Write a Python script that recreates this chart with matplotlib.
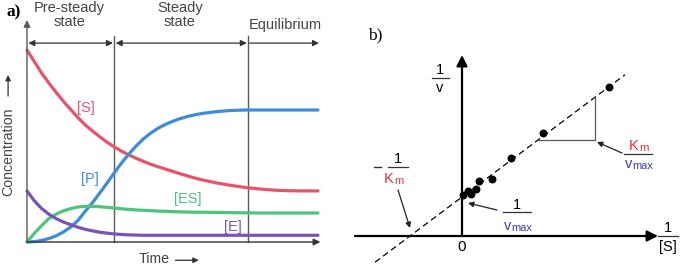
import matplotlib
matplotlib.use("Agg")
import matplotlib.pyplot as plt

# ---------------- data ----------------
time = [0, 0.25, 0.5, 0.75, 1, 1.25, 1.5, 1.75, 2, 2.25, 2.5, 2.75, 3, 3.25, 3.5, 3.75,
        4, 4.25, 4.5, 4.75, 5, 5.25, 5.5, 5.75, 6, 6.5, 7, 7.5, 8, 8.5, 9, 9.5, 10]
conc_S = [1.0, 0.94, 0.88, 0.828, 0.78, 0.733, 0.69, 0.648, 0.61, 0.578, 0.548, 0.52,
          0.495, 0.473, 0.453, 0.436, 0.42, 0.405, 0.392, 0.38, 0.368, 0.356, 0.345,
          0.334, 0.324, 0.308, 0.295, 0.284, 0.276, 0.27, 0.267, 0.266, 0.266]
conc_P = [0.0, 0.002, 0.008, 0.018, 0.032, 0.052, 0.078, 0.112, 0.16, 0.205, 0.255, 0.307,
          0.36, 0.412, 0.458, 0.5, 0.537, 0.567, 0.592, 0.612, 0.628, 0.642, 0.653, 0.662,
          0.669, 0.679, 0.685, 0.6875, 0.6875, 0.6875, 0.6875, 0.6875, 0.6875]
conc_ES = [0.0, 0.045, 0.085, 0.122, 0.145, 0.162, 0.174, 0.182, 0.186, 0.186, 0.184,
           0.18, 0.177, 0.173, 0.17, 0.167, 0.165, 0.163, 0.161, 0.16, 0.158, 0.157, 0.156,
           0.155, 0.155, 0.154, 0.153, 0.152, 0.151, 0.151, 0.151, 0.151, 0.151]
conc_E = [0.266, 0.215, 0.175, 0.145, 0.122, 0.104, 0.09, 0.077, 0.066, 0.058, 0.051,
          0.046, 0.042, 0.039, 0.037, 0.036, 0.035, 0.035, 0.035, 0.035, 0.035, 0.035,
          0.035, 0.035, 0.035, 0.035, 0.035, 0.035, 0.035, 0.035, 0.035, 0.035, 0.035]
phase_bounds = [3.0, 7.6]
phase_labels = ["Pre-steady\nstate", "Steady\nstate", "Equilibrium"]

inv_S = [0.02, 0.12, 0.18, 0.28, 0.34, 0.60, 0.98, 1.62, 2.94]
inv_v = [0.82, 0.90, 0.84, 0.94, 1.10, 1.14, 1.56, 2.06, 2.98]
inv_vmax = 0.78
neg_inv_Km = -1.04

# ---------------- style ----------------
FONT = "Liberation Sans"
C_S, C_P, C_ES, C_E = "#e8536b", "#3b8ddc", "#4cc47a", "#7a52b8"
C_RED, C_BLUE = "#e8303a", "#3a3ab4"
GRAY = "#5a5a5a"
TXT = "#444444"
FS_A = 10.5

fig = plt.figure(figsize=(6.85, 2.67), dpi=100)
W, H = 685.0, 267.0

# ================= panel a =================
axa = fig.add_axes([27 / W, 25 / H, 291 / W, 192 / H])
axa.set_xlim(0, 10)
axa.set_ylim(0, 1)
axa.axis("off")

lw = 2.3
for y, c in [(conc_S, C_S), (conc_P, C_P), (conc_ES, C_ES), (conc_E, C_E)]:
    axa.plot(time, y, color=c, lw=lw, clip_on=False, solid_capstyle="round",
             solid_joinstyle="round", zorder=3)

# axes
axa.annotate("", xy=(0, 1.156), xytext=(0, 0), xycoords="data",
             arrowprops=dict(arrowstyle="-|>", color=GRAY, lw=1.0, mutation_scale=10,
                             shrinkA=0, shrinkB=0), annotation_clip=False)
axa.annotate("", xy=(10.08, 0), xytext=(0, 0),
             arrowprops=dict(arrowstyle="-|>", color="#333333", lw=1.0, mutation_scale=10,
                             shrinkA=0, shrinkB=0), annotation_clip=False)
for b in phase_bounds:
    axa.plot([b, b], [0, 1.075], color=GRAY, lw=1.0, clip_on=False, zorder=2)

# phase arrows
ya = 1.036
seg = [(0, phase_bounds[0], "<|-|>"), (phase_bounds[0], phase_bounds[1], "<|-|>"),
       (phase_bounds[1], 10.08, "-|>")]
for x0, x1, st in seg:
    axa.annotate("", xy=(x1, ya), xytext=(x0, ya),
                 arrowprops=dict(arrowstyle=st, color="#333333", lw=0.9, mutation_scale=9,
                                 shrinkA=1, shrinkB=1), annotation_clip=False)

axa.text(1.45, 1.18, phase_labels[0], ha="center", va="center", fontsize=FS_A,
         family=FONT, color=TXT, linespacing=1.0)
axa.text(5.25, 1.18, phase_labels[1], ha="center", va="center", fontsize=FS_A,
         family=FONT, color=TXT, linespacing=1.0)
axa.text(8.87, 1.13, phase_labels[2], ha="center", va="center", fontsize=FS_A,
         family=FONT, color=TXT)

# curve labels
axa.text(2.03, 0.70, "[S]", color=C_S, fontsize=FS_A, family=FONT, ha="center", va="center")
axa.text(2.16, 0.33, "[P]", color=C_P, fontsize=FS_A, family=FONT, ha="center", va="center")
axa.text(5.53, 0.224, "[ES]", color=C_ES, fontsize=FS_A, family=FONT, ha="center", va="center")
axa.text(7.08, 0.078, "[E]", color=C_E, fontsize=FS_A, family=FONT, ha="center", va="center")

# axis titles
axa.text(-0.65, 0.47, "Concentration", rotation=90, ha="center", va="center",
         fontsize=10.2, family=FONT, color=TXT)
axa.annotate("", xy=(-0.65, 0.87), xytext=(-0.65, 0.76),
             arrowprops=dict(arrowstyle="-|>", color="#333333", lw=0.9, mutation_scale=8,
                             shrinkA=0, shrinkB=0), annotation_clip=False)
axa.text(4.36, -0.089, "Time", ha="center", va="center", fontsize=10.2, family=FONT,
         color=TXT)
axa.annotate("", xy=(5.9, -0.095), xytext=(5.1, -0.095),
             arrowprops=dict(arrowstyle="-|>", color="#333333", lw=0.9, mutation_scale=8,
                             shrinkA=0, shrinkB=0), annotation_clip=False)

fig.text(14 / W, 1 - 12 / H, "a)", fontsize=12.5, fontweight="bold",
         family="Liberation Serif", ha="center", va="center")

# ================= panel b =================
axb = fig.add_axes([342 / W, 0, 343 / W, 1])
axb.set_xlim(-2.4, 4.46)
axb.set_ylim(-0.62, 4.72)
axb.axis("off")

# axes arrows
axb.annotate("", xy=(3.92, 0), xytext=(-2.14, 0),
             arrowprops=dict(arrowstyle="-|>", color="black", lw=1.6, mutation_scale=16,
                             shrinkA=0, shrinkB=0))
axb.annotate("", xy=(0, 3.62), xytext=(0, 0),
             arrowprops=dict(arrowstyle="-|>", color="black", lw=1.6, mutation_scale=16,
                             shrinkA=0, shrinkB=0))

# dashed fit line
slope = inv_vmax / (-neg_inv_Km)
xl = [-1.74, 3.26]
axb.plot(xl, [inv_vmax + slope * x for x in xl], ls=(0, (5, 3)), color="black", lw=0.9)
axb.scatter(inv_S, inv_v, s=22, color="black", zorder=4)

# slope triangle
xt0, xt1 = 1.52, 2.66
yt = inv_vmax + slope * xt0
axb.plot([xt0, xt1, xt1], [yt, yt, inv_vmax + slope * xt1], color=GRAY, lw=0.9)


def frac(ax, x, ytop, ybot, yline, top, bot, half, ctop="black", cbot="black", fs=10.5):
    if isinstance(top, tuple):
        t = ax.text(x - 0.08, ytop, top[0], color=ctop, fontsize=fs, family=FONT,
                    ha="center", va="baseline")
        ax.annotate(top[1], xy=(1, 0), xycoords=t, fontsize=fs * 0.78, family=FONT,
                    color=ctop, ha="left", va="bottom")
    else:
        ax.text(x, ytop, top, color=ctop, fontsize=fs, family=FONT, ha="center",
                va="baseline")
    if isinstance(bot, tuple):
        t = ax.text(x - 0.18, ybot, bot[0], color=cbot, fontsize=fs, family=FONT,
                    ha="center", va="baseline")
        ax.annotate(bot[1], xy=(1, 0), xycoords=t, fontsize=fs * 0.75, family=FONT,
                    color=cbot, ha="left", va="bottom")
    else:
        ax.text(x, ybot, bot, color=cbot, fontsize=fs, family=FONT, ha="center",
                va="baseline")
    ax.plot([x - half, x + half], [yline, yline], color="#333333", lw=0.9)


# 1/v
frac(axb, -0.44, 3.24, 2.88, 3.16, "1", "v", 0.17)
# 1/[S]
frac(axb, 4.12, 0.08, -0.31, 0.0, "1", "[S]", 0.2)
# 0
axb.text(0.0, -0.22, "0", fontsize=11, family=FONT, ha="center", va="center")
# -1/Km
axb.plot([-1.76, -1.62], [1.38, 1.38], color="#333333", lw=1.0)
frac(axb, -1.28, 1.46, 1.06, 1.38, "1", ("K", "m"), 0.2, cbot=C_RED)
# 1/vmax
frac(axb, 1.10, 0.54, 0.12, 0.48, "1", ("v", "max"), 0.28, cbot=C_BLUE)
# Km/vmax
frac(axb, 3.52, 1.72, 1.36, 1.64, ("K", "m"), ("v", "max"), 0.28, ctop=C_RED, cbot=C_BLUE)

# pointer arrows
arr = dict(arrowstyle="-|>", color="#222222", lw=0.9, mutation_scale=8, shrinkA=0, shrinkB=0)
axb.annotate("", xy=(-1.04, 0.16), xytext=(-1.28, 0.92), arrowprops=arr)
axb.annotate("", xy=(0.12, 0.66), xytext=(0.70, 0.52), arrowprops=arr)
axb.annotate("", xy=(2.70, 1.88), xytext=(3.20, 1.66), arrowprops=arr)

fig.text(375 / W, 1 - 35 / H, "b)", fontsize=12.5, family="Liberation Serif",
         ha="center", va="center")

fig.savefig("out.png", dpi=100)
